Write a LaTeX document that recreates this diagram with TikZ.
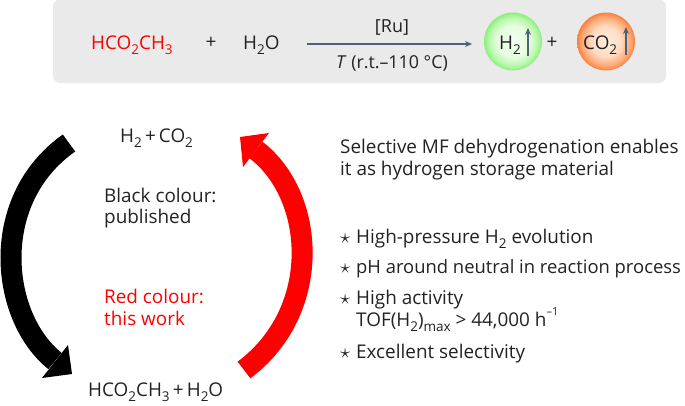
\documentclass[tikz,border=0pt]{standalone}
\usepackage{fontspec}
\setmainfont{Open Sans}
\newcommand{\sbs}[1]{\raisebox{-0.28em}{\fontsize{13.5}{14}\selectfont #1}}
\newcommand{\sps}[1]{\raisebox{0.55em}{\fontsize{11}{12}\selectfont #1}}
\definecolor{boxgray}{HTML}{EAEAEA}
\definecolor{slatearrow}{HTML}{4F5F78}
\definecolor{txt}{HTML}{222222}
\definecolor{pure}{HTML}{FF0000}
\usetikzlibrary{arrows.meta}
\pgfdeclareradialshading{greenball}{\pgfpointorigin}{
 rgb(0bp)=(0.95,0.995,0.93);
 rgb(14bp)=(0.90,0.99,0.87);
 rgb(21bp)=(0.72,0.97,0.67);
 rgb(25bp)=(0.54,0.94,0.48);
 rgb(50bp)=(0.54,0.94,0.48)}
\pgfdeclareradialshading{orangeball}{\pgfpointorigin}{
 rgb(0bp)=(1.0,0.93,0.88);
 rgb(13bp)=(1.0,0.86,0.76);
 rgb(21bp)=(0.99,0.66,0.46);
 rgb(25bp)=(0.98,0.50,0.25);
 rgb(50bp)=(0.98,0.50,0.25)}
\tikzset{
 lbl/.style={inner sep=0pt,anchor=base west,text=txt,font=\fontsize{18.9}{22}\selectfont},
 ctr/.style={inner sep=0pt,anchor=base,text=txt,font=\fontsize{18.9}{22}\selectfont},
 redlbl/.style={lbl,text=pure},
 slate/.style={draw=slatearrow,line width=1.1pt,-{Stealth[length=7pt,width=6pt]}},
 bigblack/.style={draw=black,line width=21pt},
 bigred/.style={draw=pure,line width=21pt},
 ball/.style={circle,minimum size=58pt,inner sep=0pt},
 bulletstar/.style={lbl,font=\fontsize{20}{20}\selectfont},
}
\begin{document}
\begin{tikzpicture}[x=1pt,y=-1pt]
\useasboundingbox (0,0) rectangle (685,405);
\fill[boxgray,rounded corners=7pt] (53,-0.5) rectangle (666,83);
% top equation
\node[redlbl] (mf) at (91,49) {HCO\sbs{2}CH\sbs{3}};
\node[ctr] (plusa) at (211,48) {+};
\node[lbl] (water) at (243,49) {H\sbs{2}O};
\coordinate (arrowstart) at (307,44);
\coordinate (arrowend) at (472,44);
\draw[slate] (arrowstart) -- (arrowend);
\node[ctr,font=\fontsize{18}{20}\selectfont] (ru) at (392,32) {[Ru]};
\node[ctr,font=\fontsize{17.8}{20}\selectfont] (cond) at (392,68) {\textit{T} (r.t.–110 °C)};
\node[ball,shading=greenball] (h2ball) at (513,41.5) {};
\node[ball,shading=orangeball] (co2ball) at (606,41.5) {};
\node[lbl] (h2) at (499,49) {H\sbs{2}};
\node[ctr] (plusb) at (552,48) {+};
\node[lbl] (co2) at (583,49) {CO\sbs{2}};
\coordinate (h2a) at (528,56); \coordinate (h2b) at (528,28);
\coordinate (co2a) at (626,55); \coordinate (co2b) at (626,27);
\draw[slate] (h2a) -- (h2b);
\draw[slate] (co2a) -- (co2b);
% cycle arrows
\coordinate (ba) at (69,143); \coordinate (bb) at (55,361);
\draw[bigblack] (ba) .. controls (-12,200) and (0,317) .. (bb);
\coordinate (bh1) at (68,345); \coordinate (bh2) at (42,378); \coordinate (bh3) at (72,374);
\fill[black] (bh1) -- (bh2) -- (bh3) -- cycle;
\coordinate (ra) at (244,370); \coordinate (rb) at (256,150);
\draw[bigred] (ra) .. controls (323,311) and (316,196) .. (rb);
\coordinate (rh1) at (269,133); \coordinate (rh2) at (243,167); \coordinate (rh3) at (240,137);
\fill[pure] (rh1) -- (rh2) -- (rh3) -- cycle;
% cycle labels
\node[lbl] (top) at (120,142) {H\sbs{2}\,+\,CO\sbs{2}};
\node[lbl] (blacka) at (104,202) {Black colour:};
\node[lbl] (blackb) at (104,223) {published};
\node[redlbl] (reda) at (104,303) {Red colour:};
\node[redlbl] (redb) at (104,325) {this work};
\node[lbl] (bottom) at (88,396) {HCO\sbs{2}CH\sbs{3}\,+\,H\sbs{2}O};
% right text
\node[lbl] (sela) at (340,153) {Selective MF dehydrogenation enables};
\node[lbl] (selb) at (340,175) {it as hydrogen storage material};
\node[bulletstar] (s1) at (340,243) {$\star$};
\node[lbl] (t1) at (356,243) {High-pressure H\sbs{2} evolution};
\node[bulletstar] (s2) at (340,273) {$\star$};
\node[lbl,font=\fontsize{18.4}{22}\selectfont] (t2) at (356,273) {pH around neutral in reaction process};
\node[bulletstar] (s3) at (340,304) {$\star$};
\node[lbl] (t3) at (356,304) {High activity};
\node[lbl] (t3b) at (356,326) {TOF(H\sbs{2})\sbs{max} > 44,000 h\sps{–1}};
\node[bulletstar] (s4) at (340,358) {$\star$};
\node[lbl] (t4) at (356,358) {Excellent selectivity};
\end{tikzpicture}
\end{document}
